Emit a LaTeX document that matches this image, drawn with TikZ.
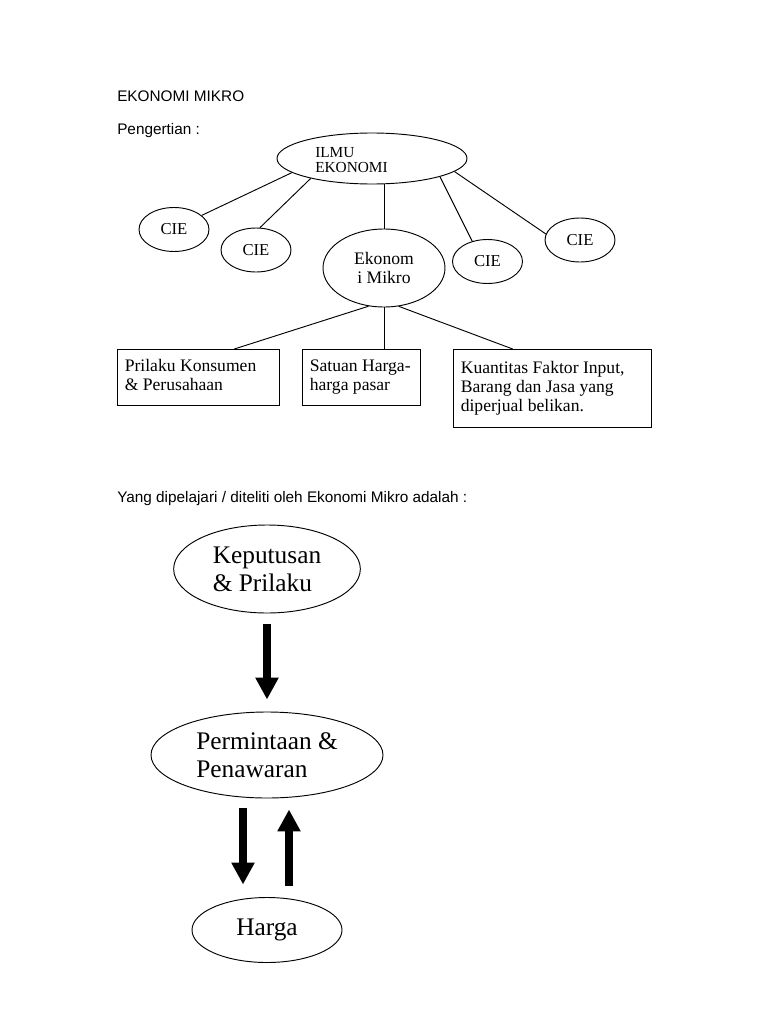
\documentclass[tikz,border=0pt]{standalone}
\usepackage{fontspec}
\setmainfont{Liberation Serif}
\newfontfamily\arialfont{Liberation Sans}
\usetikzlibrary{arrows.meta,calc,shapes.geometric}

\begin{document}
\begin{tikzpicture}[x=0.75pt,y=-0.75pt,
  oval/.style={draw, ellipse, inner sep=0pt, line width=0.7pt, align=flush left},
  cie/.style={oval, minimum width=52.5pt, minimum height=33pt, font=\fontsize{12.5}{14}\selectfont},
  kotak/.style={draw, rectangle, anchor=north west, line width=0.7pt, align=flush left, inner xsep=5.5pt, inner ysep=0pt,
    execute at begin node=\strut, execute at end node=\strut, font=\fontsize{13.2}{14.2}\selectfont},
  besar/.style={oval, font=\fontsize{19}{21}\selectfont},
  teks/.style={anchor=base west, inner sep=0pt, font=\arialfont\fontsize{11.5}{13}\selectfont},
  garis/.style={line width=0.7pt},
  panah/.style={line width=5.5pt, -{Triangle[width=16.5pt,length=16.5pt]}}
]
\useasboundingbox (0,0) rectangle (768,1024);

% Judul
\node[teks] (judul) at (117,102) {EKONOMI MIKRO};
\node[teks] (pengertian) at (117,134) {Pengertian :};

% Ilmu ekonomi dan cabangnya
\node[oval, minimum width=142.5pt, minimum height=38.25pt] (ilmu) at (372,158.5) {};
\node[anchor=west, inner sep=0pt, align=flush left, font=\fontsize{11.5}{11.25}\selectfont] (ilmutext) at (315,160) {ILMU\\EKONOMI};
\node[cie] (cie1) at (174,229.5) {CIE};
\node[cie] (cie2) at (256,250) {CIE};
\node[oval, minimum width=91.5pt, minimum height=58.5pt, align=center, font=\fontsize{13.2}{13.7}\selectfont] (mikro) at (384,268) {Ekonom\\i Mikro};
\node[cie] (cie3) at (487.5,261.5) {CIE};
\node[cie] (cie4) at (580,240) {CIE};

\draw[garis] (ilmu.190) -- (cie1.27);
\draw[garis] (ilmu.198) -- (cie2.80);
\draw[garis] (mikro.north |- ilmu.south) -- (mikro.north);
\draw[garis] (ilmu.345) -- (cie3.127);
\draw[garis] (ilmu.351) -- (cie4.170);

% Kotak di bawah ekonomi mikro
\node[kotak, text width=110.5pt, minimum height=42pt] (kotak1) at (117,349) {Prilaku Konsumen\\\& Perusahaan};
\node[kotak, text width=77.5pt, minimum height=42pt] (kotak2) at (302,349) {Satuan Harga-\\harga pasar};
\node[kotak, text width=137.5pt, minimum height=58.5pt] (kotak3) at (453,349) {Kuantitas Faktor Input,\\Barang dan Jasa yang\\diperjual belikan.};

\draw[garis] (mikro.248) -- ($(kotak1.north west)!0.72!(kotak1.north east)$);
\draw[garis] (mikro.south) -- (mikro.south |- kotak2.north);
\draw[garis] (mikro.291) -- ($(kotak3.north west)!0.3!(kotak3.north east)$);

\node[teks] (yang) at (117,502) {Yang dipelajari / diteliti oleh Ekonomi Mikro adalah :};

% Alur keputusan - harga
\node[besar, minimum width=140pt, minimum height=66pt] (keputusan) at (267,569) {Keputusan\\\& Prilaku};
\node[besar, minimum width=174pt, minimum height=64.5pt] (permintaan) at (267,755) {Permintaan \&\\Penawaran};
\node[besar, minimum width=112.5pt, minimum height=48.75pt] (harga) at (267,930) {Harga};

\draw[panah, shorten <=8pt, shorten >=9pt] (keputusan) -- (permintaan);
\draw[panah, shorten <=7.5pt, shorten >=9.4pt] ([xshift=-18pt]permintaan.south) -- ([xshift=-18pt]harga.north);
\draw[panah, shorten <=8.6pt, shorten >=8.25pt] ([xshift=16.5pt]harga.north) -- ([xshift=16.5pt]permintaan.south);
\end{tikzpicture}
\end{document}
